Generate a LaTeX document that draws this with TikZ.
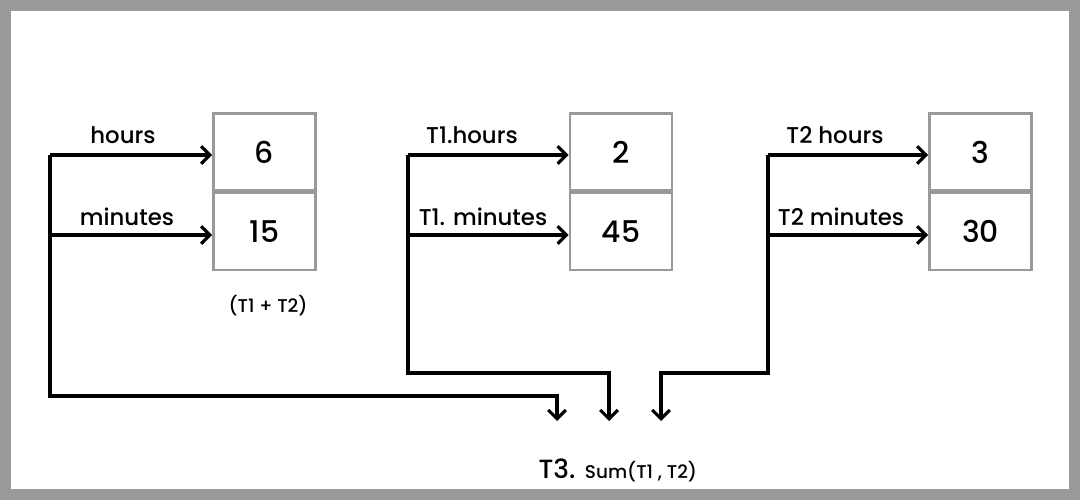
\documentclass[tikz,border=0pt]{standalone}
\usepackage{fontspec}
\setmainfont{Poppins}[UprightFont=* Medium]
\usetikzlibrary{arrows.meta}
\begin{document}
\begin{tikzpicture}[x=0.02cm,y=-0.02cm,
  cell/.style={draw=gray!80,line width=1.5pt,minimum width=2.04cm,minimum height=1.54cm,inner sep=0pt,font=\fontsize{17}{17}\selectfont},
  lab/.style={font=\fontsize{13}{13}\selectfont,inner sep=0pt},
  small/.style={font=\fontsize{10.5}{10.5}\selectfont,inner sep=0pt},
  wire/.style={line width=2pt},
  arr/.style={wire,-{Straight Barb[length=5pt,width=10pt,line width=1.8pt]}}]
\useasboundingbox (0,0) rectangle (1080,500);
\draw[gray!80,line width=8pt] (4,4) rectangle (1076,496);
\foreach \n/\x/\a/\b in {L/264.5/6/15, M/621/2/45, R/980.5/3/30}{
  \node[cell] (\n1) at (\x,152) {\a};
  \node[cell] (\n2) at (\x,231.5) {\b};
}
\coordinate (La) at (50,155); \coordinate (Lb) at (50,235);
\coordinate (Ma) at (408,155); \coordinate (Mb) at (408,235);
\coordinate (Ra) at (768,155); \coordinate (Rb) at (768,235);
\draw[arr] (La) -- (L1.west|-La);
\draw[arr] (Lb) -- (L2.west|-Lb);
\draw[arr] (Ma) -- (M1.west|-Ma);
\draw[arr] (Mb) -- (M2.west|-Mb);
\draw[arr] (Ra) -- (R1.west|-Ra);
\draw[arr] (Rb) -- (R2.west|-Rb);
\node[lab] (h1) at (123,135) {hours};
\node[lab] (m1) at (127,217) {minutes};
\node[lab] (h2) at (472,135) {T1.hours};
\node[lab] (m2) at (483,217) {T1. minutes};
\node[lab] (h3) at (835,135) {T2 hours};
\node[lab] (m3) at (841,217) {T2 minutes};
\node[small] (sum) at (268,306) {(T1 + T2)};
\node[lab,font=\fontsize{15}{15}\selectfont] (t3) at (557,469) {T3.};
\node[small] (s3) at (641,472) {Sum(T1 , T2)};
\coordinate (e1) at (557,421); \coordinate (e2) at (609,421); \coordinate (e3) at (661,421);
\draw[arr] (La) -- (50,396) -| (e1);
\draw[arr] (Ma) -- (408,373) -| (e2);
\draw[arr] (Ra) -- (768,373) -| (e3);
\end{tikzpicture}
\end{document}
